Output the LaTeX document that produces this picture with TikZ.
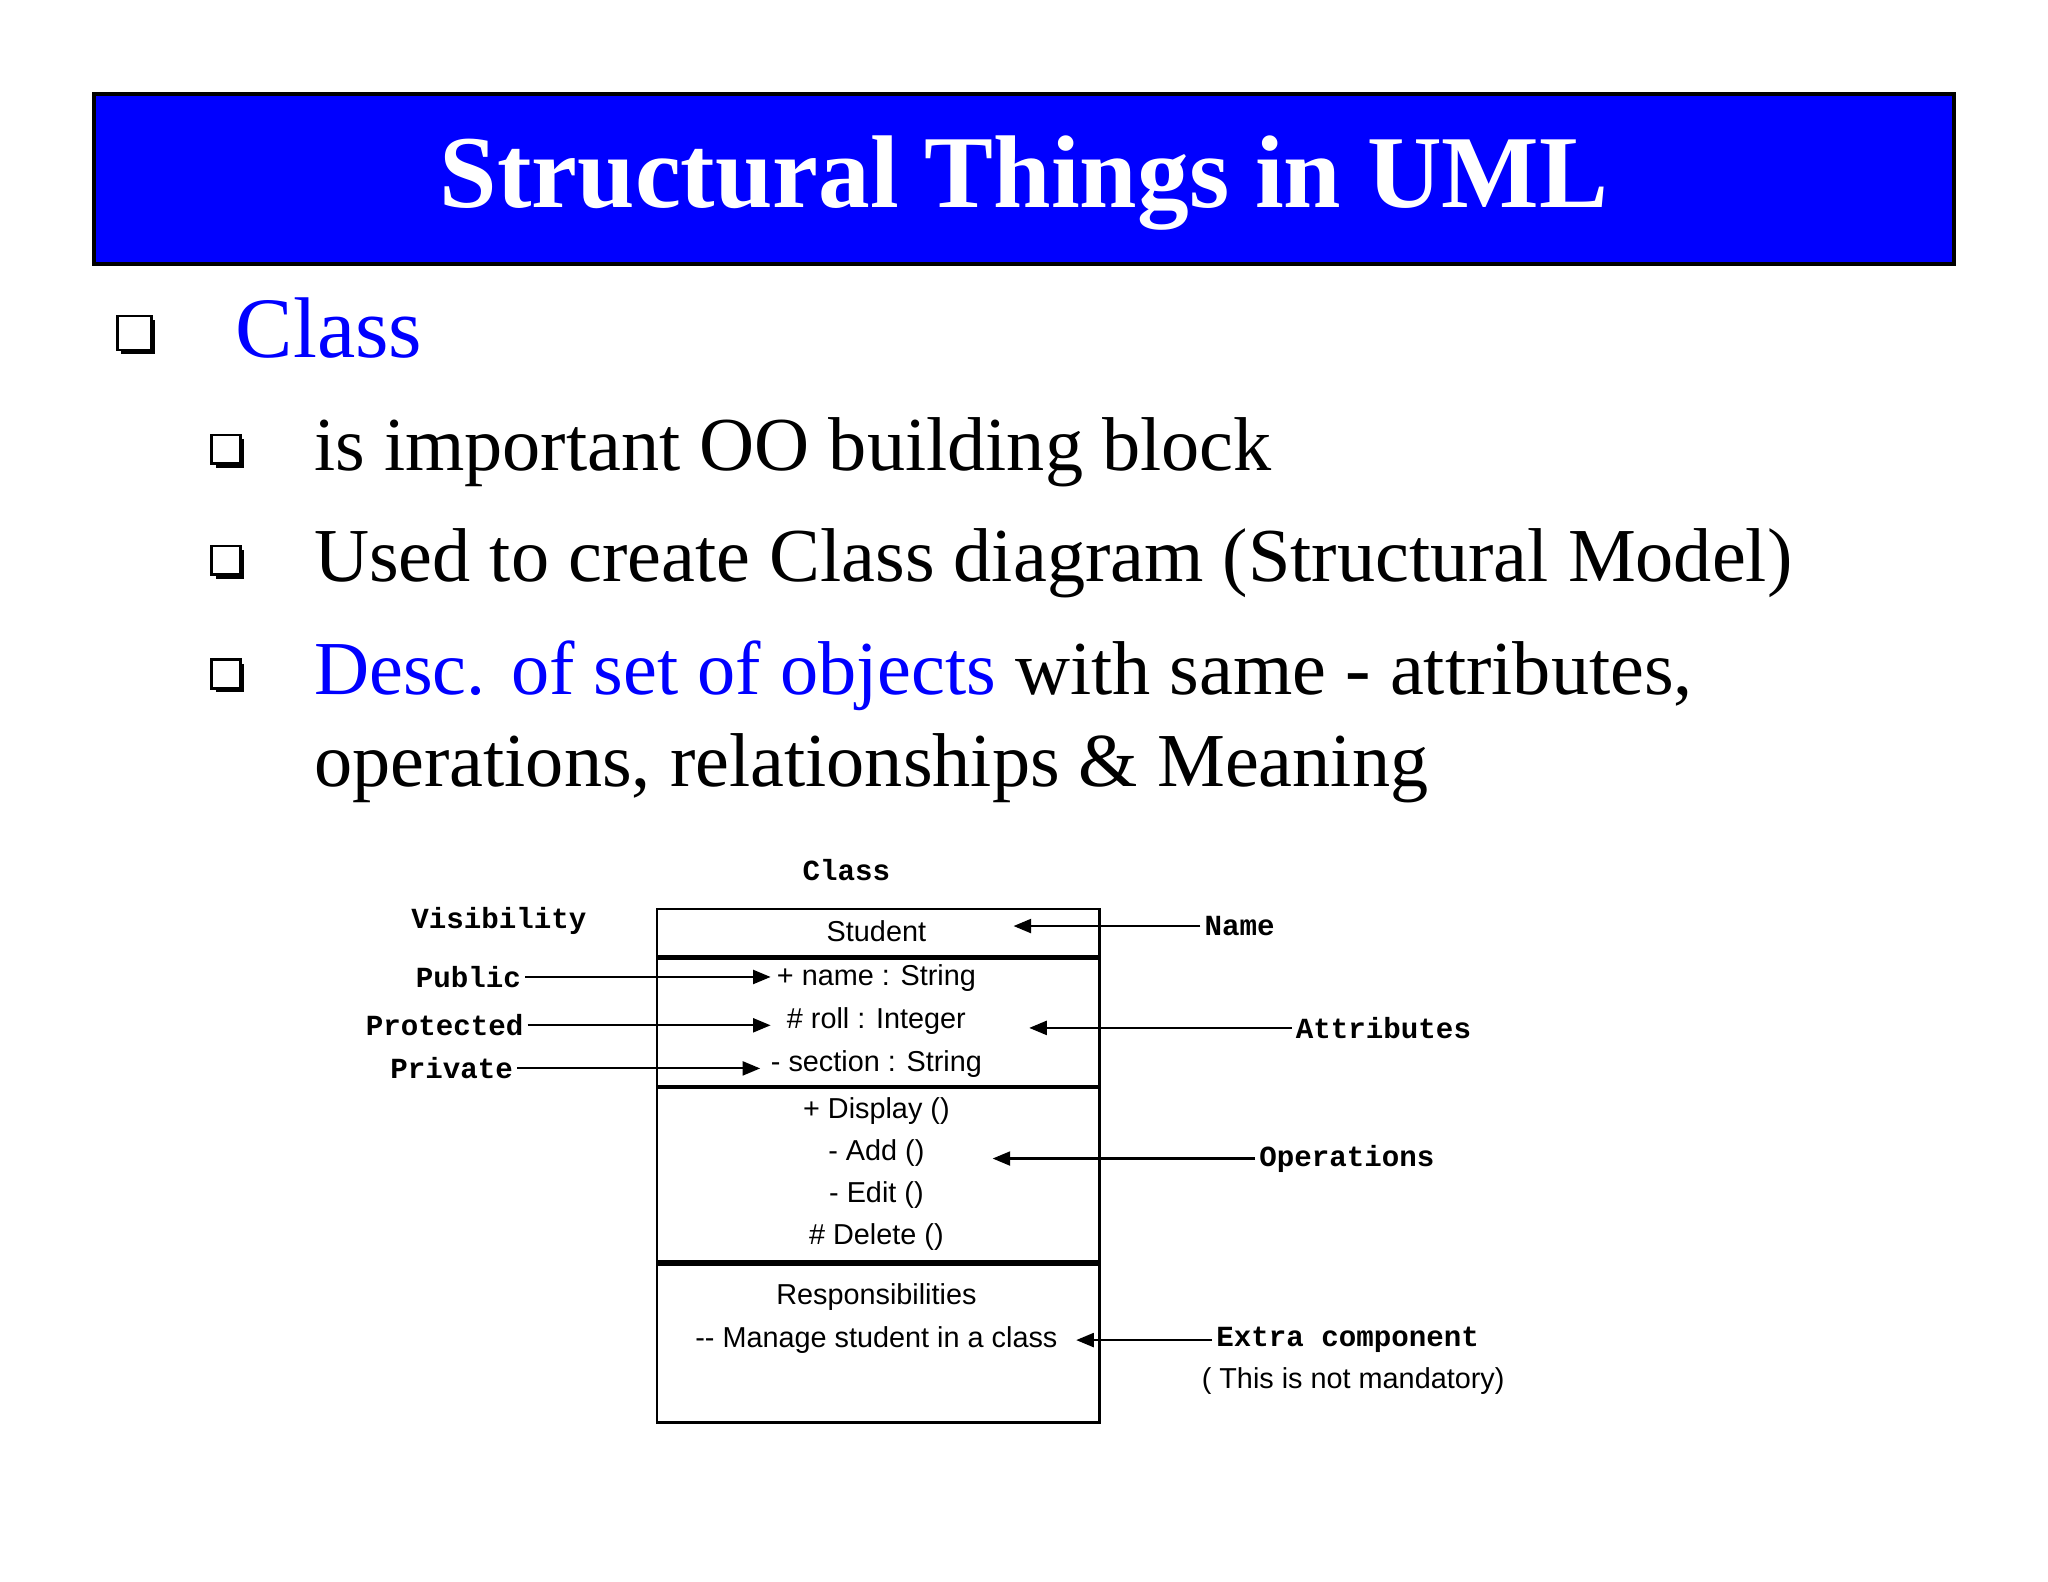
\documentclass[tikz,border=0pt]{standalone}
\usepackage{fontspec}
\setmainfont{Liberation Serif}
\newfontfamily\uisans{Liberation Sans}
\newfontfamily\uimono{Liberation Mono}
\usetikzlibrary{arrows.meta}
\definecolor{banner}{RGB}{0,0,255}
\begin{document}
\begin{tikzpicture}[x=0.01306cm,y=-0.01306cm,
  lab/.style={font=\uimono\bfseries\fontsize{8.3pt}{10pt}\selectfont,inner sep=1pt},
  cls/.style={font=\uisans\fontsize{8.2pt}{10pt}\selectfont,inner sep=1pt},
  bul/.style={font=\fontsize{21.7pt}{25pt}\selectfont,anchor=base west,inner sep=0pt},
  arr/.style={-{Triangle[length=5pt,width=4pt]},line width=0.6pt}]
\useasboundingbox (0,0) rectangle (1568,1211);
\fill[white] (0,0) rectangle (1568,1211);
% banner
\draw[fill=banner,line width=1pt] (72,72) rectangle (1496,202);
\node[text=white,font=\bfseries\fontsize{29.4pt}{34pt}\selectfont] (title) at (784,140) {Structural Things in UML};
% bullets
\newcommand{\qbox}[3]{% x y size
  \fill[black] (#1+3,#2+3) rectangle (#1+#3+3,#2+#3+3);
  \draw[fill=white,line width=0.8pt] (#1,#2) rectangle (#1+#3,#2+#3);}
\qbox{90}{242}{26}
\node[bul,text=banner,font=\fontsize{24.5pt}{28pt}\selectfont] (cls) at (180,274) {Class};
\qbox{162}{333}{22}
\node[bul] (b1) at (240,360) {is important OO building block};
\qbox{162}{418}{22}
\node[bul] (b2) at (240,445) {Used to create Class diagram (Structural Model)};
\qbox{162}{505}{22}
\node[bul] (b3) at (240,532) {\textcolor{banner}{Desc. of set of objects} with same - attributes,};
\node[bul] (b4) at (240,602) {operations, relationships \& Meaning};
% class box
\draw[line width=0.8pt] (503,696) rectangle (842,1089);
\draw[line width=1.2pt] (503,733) -- (842,733);
\draw[line width=1.2pt] (503,832) -- (842,832);
\draw[line width=1.6pt] (503,967) -- (842,967);
\node[lab] (hclass) at (648,666) {Class};
\node[cls] (student) at (671,713) {Student};
\node[cls] (a1) at (671,749) {+ name : String};
\node[cls] (a2) at (671,782) {\# roll : Integer};
\node[cls] (a3) at (671,815) {- section : String};
\node[cls] (o1) at (671,851) {+ Display ()};
\node[cls] (o2) at (671,883) {- Add ()};
\node[cls] (o3) at (671,915) {- Edit ()};
\node[cls] (o4) at (671,947) {\# Delete ()};
\node[cls] (r1) at (671,993) {Responsibilities};
\node[cls] (r2) at (671,1026) {-- Manage student in a class};
% labels
\node[lab] (vis) at (382,705) {Visibility};
\node[lab,anchor=east] (pub) at (402,748) {Public};
\node[lab,anchor=east] (pro) at (404,785) {Protected};
\node[lab,anchor=east] (pri) at (396,818) {Private};
\node[lab,anchor=west] (name) at (919,709) {Name};
\node[lab,anchor=west] (attr) at (989,787) {Attributes};
\node[lab,anchor=west] (ops) at (961,887) {Operations};
\node[lab,anchor=west] (extra) at (928,1026) {Extra component};
\node[cls] (mand) at (1036,1057) {( This is not mandatory)};
% arrows
\coordinate (pa) at (590,748);
\coordinate (pra) at (590,785);
\coordinate (pria) at (582,818);
\coordinate (na) at (776,711);
\coordinate (aa) at (788,787);
\coordinate (oa) at (760,887);
\coordinate (ea) at (824,1027);
\draw[arr] (pub.east) -- (pub.east -| pa);
\draw[arr] (pro.east) -- (pro.east -| pra);
\draw[arr] (pri.east) -- (pri.east -| pria);
\draw[arr] (name.west) -- (name.west -| na);
\draw[arr] (attr.west) -- (attr.west -| aa);
\draw[arr] (ops.west) -- (ops.west -| oa);
\draw[arr] (extra.west) -- (extra.west -| ea);
\end{tikzpicture}
\end{document}
